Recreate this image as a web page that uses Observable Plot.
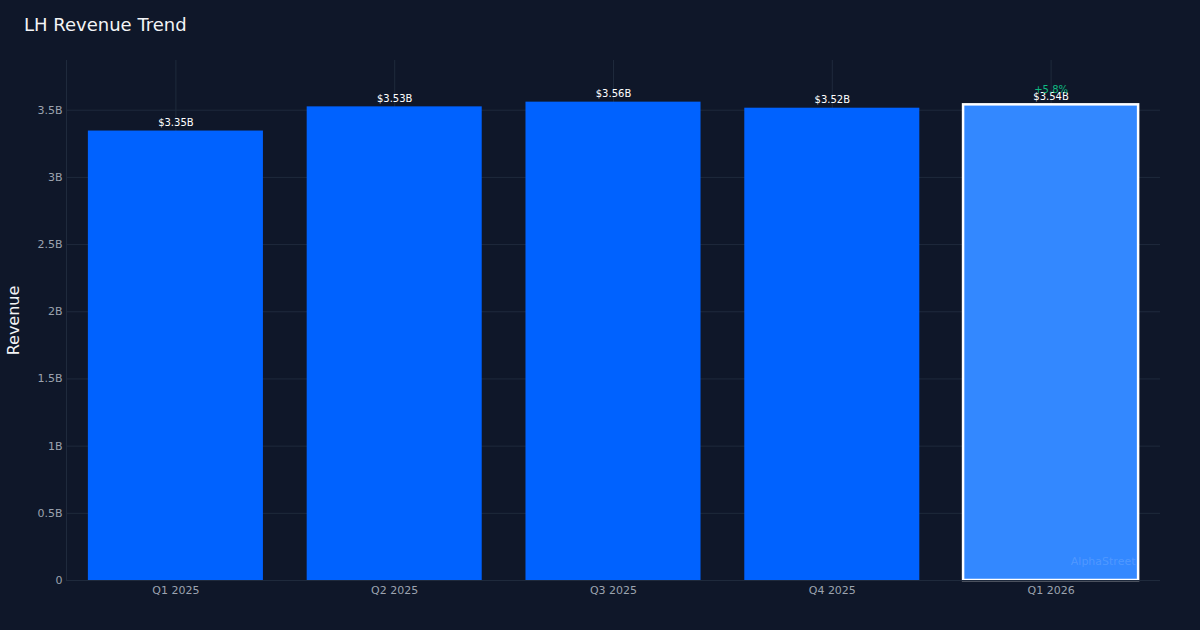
<!DOCTYPE html>
<html>
<head>
<meta charset="utf-8">
<script src="https://cdn.jsdelivr.net/npm/d3@7"></script>
<script src="https://cdn.jsdelivr.net/npm/@observablehq/plot@0.6"></script>
<style>
  html, body { margin: 0; padding: 0; background: #0f1729; }
  #wrap { position: relative; width: 1200px; height: 630px; font-family: "DejaVu Sans", sans-serif; }
  #title { position: absolute; left: 24px; top: 14px; color: #f3f4f6; font-size: 18px; z-index: 2; }
  #wrap svg { position: absolute; left: 0; top: 0; z-index: 1; }
</style>
</head>
<body>
<div id="wrap"><div id="title">LH Revenue Trend</div></div>
<script>
const quarters = ["Q1 2025", "Q2 2025", "Q3 2025", "Q4 2025", "Q1 2026"];
const revenue = [3.345, 3.525, 3.56, 3.515, 3.54];
const valueLabels = ["$3.35B", "$3.53B", "$3.56B", "$3.52B", "$3.54B"];
const highlight = [false, false, false, false, true];
const changeLabel = "+5.8%";
const yTicks = [0, 0.5, 1, 1.5, 2, 2.5, 3, 3.5];

const data = quarters.map((q, i) => ({q, v: revenue[i], label: valueLabels[i], hl: highlight[i]}));
const last = data.filter(d => d.hl);

const chart = Plot.plot({
  width: 1200,
  height: 630,
  marginLeft: 66,
  marginRight: 40,
  marginTop: 60,
  marginBottom: 50,
  style: {background: "#0f1729", fontFamily: "DejaVu Sans, sans-serif", fontSize: "11px", color: "#9ca3af"},
  x: {domain: quarters, paddingInner: 0.2, paddingOuter: 0.1, round: false, label: null},
  y: {domain: [0, 3.87], label: null},
  marks: [
    Plot.gridY(yTicks, {stroke: "#1f2a3c", strokeOpacity: 1}),
    Plot.gridX({stroke: "#1f2a3c", strokeOpacity: 1}),
    Plot.frame({anchor: "left", stroke: "#1f2a3c"}),
    Plot.barY(data.filter(d => !d.hl), {x: "q", y: "v", fill: "#0062ff"}),
    Plot.barY(last, {x: "q", y: "v", fill: "#3388ff", stroke: "#ffffff", strokeWidth: 2.5}),
    Plot.ruleY([0], {stroke: "#1f2a3c"}),
    Plot.axisY(yTicks, {tickFormat: d => d === 0 ? "0" : d + "B", tickSize: 0, tickPadding: 4, fill: "#9ca3af", label: null}),
    Plot.axisX({tickSize: 0, tickPadding: 6, fill: "#9ca3af", label: null}),
    Plot.text(data, {x: "q", y: "v", text: "label", dy: -8, fill: "#ffffff", fontSize: 10}),
    Plot.text(last, {x: "q", y: "v", text: () => changeLabel, dy: -15, fill: "#10b981", fontSize: 10}),
    Plot.text(["Revenue"], {frameAnchor: "left", textAnchor: "middle", rotate: -90, dx: -53, fill: "#f3f4f6", fontSize: 16}),
    Plot.text(["AlphaStreet"], {frameAnchor: "bottom-right", dx: -25, dy: -16, textAnchor: "end", fill: "#ffffff", fillOpacity: 0.15, fontSize: 11})
  ]
});
document.getElementById("wrap").appendChild(chart);
</script>
</body>
</html>
